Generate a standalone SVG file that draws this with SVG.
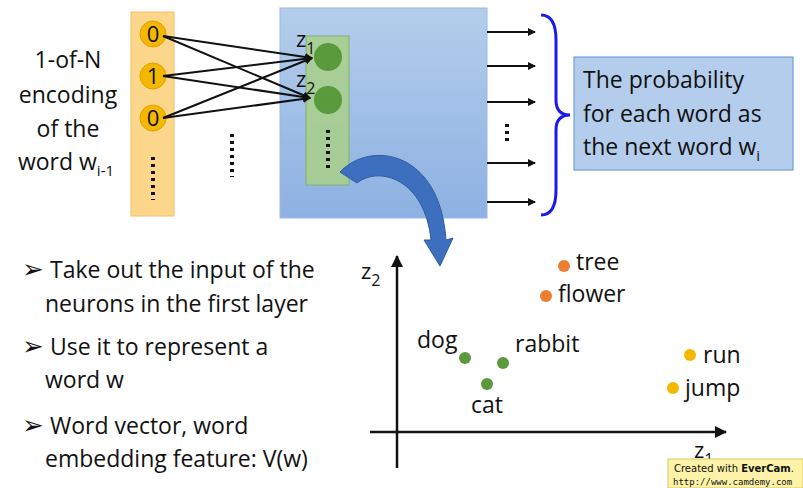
<svg xmlns="http://www.w3.org/2000/svg" width="803" height="488" viewBox="0 0 803 488">
<defs>
<style>
text{font-family:"Open Sans","Liberation Sans",sans-serif;fill:#111}
.t{font-size:23px}
.c{stroke:#111;stroke-width:2;fill:none}
.dot{stroke:#111;stroke-width:4;stroke-dasharray:3 4;fill:none}
.in{fill:#f5b800;stroke:#e0a000;stroke-width:1}
.g{fill:#5a9a3c}
</style>
<marker id="a" markerWidth="8" markerHeight="8" refX="7" refY="4" orient="auto" markerUnits="userSpaceOnUse"><path d="M0,0 L8,4 L0,8z" fill="#111"/></marker>
<marker id="b" markerWidth="12" markerHeight="12" refX="11" refY="6" orient="auto" markerUnits="userSpaceOnUse"><path d="M0,0 L12,6 L0,12z" fill="#111"/></marker>
<linearGradient id="bg" x1="0" y1="0" x2="0" y2="1"><stop offset="0" stop-color="#b4cdec"/><stop offset="1" stop-color="#8db1e2"/></linearGradient>
</defs>
<rect width="803" height="488" fill="#fff"/>
<g id="input">
<rect x="131" y="12" width="43" height="204" fill="#fcd68a" stroke="#f5c060"/>
<circle class="in" cx="153" cy="34" r="13"/><text x="153" y="42" text-anchor="middle" style="font-size:22px">0</text>
<circle class="in" cx="153" cy="76" r="13"/><text x="153" y="84" text-anchor="middle" style="font-size:22px">1</text>
<circle class="in" cx="153" cy="118" r="13"/><text x="153" y="126" text-anchor="middle" style="font-size:22px">0</text>
<line class="dot" x1="153" y1="157" x2="153" y2="200"/>
</g>
<g id="label-left" class="t" text-anchor="middle">
<text x="68" y="68">1-of-N</text><text x="68" y="103">encoding</text><text x="68" y="137">of the</text>
<text x="66" y="170">word w<tspan dy="6" style="font-size:15px">i-1</tspan></text>
</g>
<line class="dot" x1="232" y1="134" x2="232" y2="177"/>
<g id="network">
<rect x="280" y="8" width="207" height="210" fill="url(#bg)" stroke="#9ab8e0"/>
<rect x="306" y="36" width="43" height="149" fill="#a9cf8e" stroke="#7fb060" opacity="0.9"/>
<circle class="g" cx="328" cy="57" r="14"/><circle class="g" cx="328" cy="100" r="14"/>
<text x="296" y="47" style="font-size:22px">z<tspan dy="7" style="font-size:16px">1</tspan></text>
<text x="296" y="87" style="font-size:22px">z<tspan dy="7" style="font-size:16px">2</tspan></text>
<line class="dot" x1="328" y1="130" x2="328" y2="172"/>
<line class="dot" x1="507" y1="124" x2="507" y2="142"/>
</g>
<g id="connectors">
<line class="c" x1="163" y1="36" x2="312" y2="58" marker-end="url(#a)"/>
<line class="c" x1="163" y1="36" x2="310" y2="98" marker-end="url(#a)"/>
<line class="c" x1="163" y1="76" x2="312" y2="58" marker-end="url(#a)"/>
<line class="c" x1="163" y1="76" x2="310" y2="98" marker-end="url(#a)"/>
<line class="c" x1="163" y1="118" x2="312" y2="58" marker-end="url(#a)"/>
<line class="c" x1="163" y1="118" x2="310" y2="98" marker-end="url(#a)"/>
<line class="c" x1="487" y1="32" x2="535" y2="32" marker-end="url(#a)"/>
<line class="c" x1="487" y1="66" x2="535" y2="66" marker-end="url(#a)"/>
<line class="c" x1="487" y1="102" x2="535" y2="102" marker-end="url(#a)"/>
<line class="c" x1="487" y1="163" x2="535" y2="163" marker-end="url(#a)"/>
<line class="c" x1="487" y1="202" x2="535" y2="202" marker-end="url(#a)"/>
<path d="M541,15 Q556,15 556,40 L556,100 Q556,115 570,115 Q556,115 556,130 L556,190 Q556,215 541,215" fill="none" stroke="#1a1aee" stroke-width="3"/>
<path d="M340,172 C370,140 440,150 446,240 L453,238 L440,266 L424,240 L431,240 C425,180 380,165 357,183 Z" fill="#3d6fbf" stroke="#2f5aa0"/>
</g>
<g id="output">
<rect x="574" y="57" width="219" height="113" fill="#b4cdec" stroke="#5b8fd6"/>
<text class="t" x="583" y="88">The probability</text>
<text class="t" x="583" y="122">for each word as</text>
<text class="t" x="583" y="155">the next word w<tspan dy="6" style="font-size:15px">i</tspan></text>
</g>
<g id="bullets" class="t">
<text x="22" y="278"><tspan style="font-size:26px">➢</tspan> Take out the input of the</text>
<text x="45" y="312">neurons in the first layer</text>
<text x="22" y="355"><tspan style="font-size:26px">➢</tspan> Use it to represent a</text>
<text x="45" y="388">word w</text>
<text x="22" y="434"><tspan style="font-size:26px">➢</tspan> Word vector, word</text>
<text x="45" y="467">embedding feature: V(w)</text>
</g>
<g id="plot">
<line x1="397" y1="468" x2="397" y2="256" stroke="#111" stroke-width="2.5" marker-end="url(#b)"/>
<line x1="370" y1="432" x2="726" y2="432" stroke="#111" stroke-width="2.5" marker-end="url(#b)"/>
<text x="361" y="279" style="font-size:22px">z<tspan dy="7" style="font-size:16px">2</tspan></text>
<text x="694" y="458" style="font-size:22px">z<tspan dy="7" style="font-size:16px">1</tspan></text>
<circle cx="564" cy="266" r="6" fill="#ed7d31"/><text class="t" x="576" y="270">tree</text>
<circle cx="546" cy="296" r="6" fill="#ed7d31"/><text class="t" x="558" y="302">flower</text>
<circle cx="465" cy="358" r="6" fill="#5a9a3c"/><text class="t" x="417" y="348">dog</text>
<circle cx="503" cy="363" r="6" fill="#5a9a3c"/><text class="t" x="515" y="352">rabbit</text>
<circle cx="487" cy="384" r="6" fill="#5a9a3c"/><text class="t" x="471" y="413">cat</text>
<circle cx="690" cy="355" r="6" fill="#f5b800"/><text class="t" x="703" y="363">run</text>
<circle cx="673" cy="388" r="6" fill="#f5b800"/><text class="t" x="685" y="396">jump</text>
</g>
<g id="watermark">
<rect x="668" y="459" width="135" height="29" fill="#fdf3a8" stroke="#d8c860"/>
<text x="674" y="472" style="font-size:10px;font-family:'DejaVu Sans',sans-serif">Created with <tspan font-weight="bold">EverCam</tspan>.</text>
<text x="673" y="485" style="font-size:9px;font-family:'DejaVu Sans Mono',monospace">http://www.camdemy.com</text>
</g>
</svg>
